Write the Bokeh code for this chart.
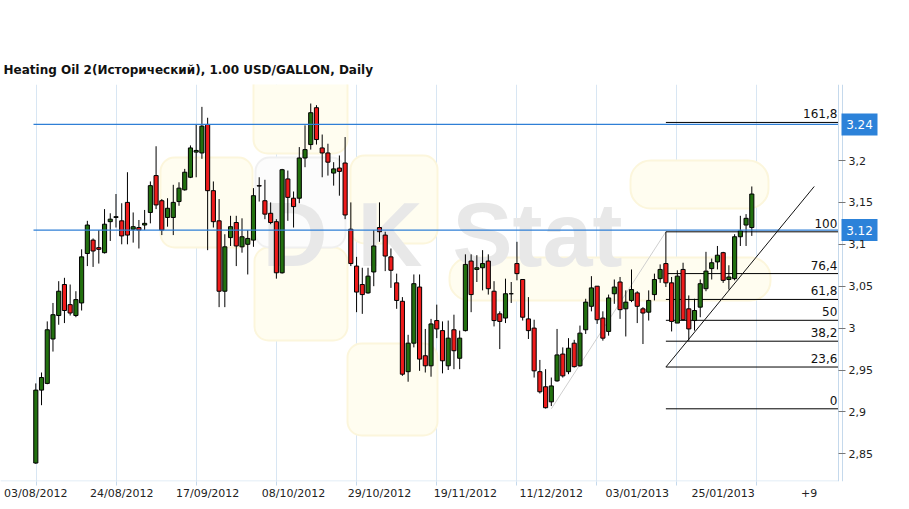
from bokeh.plotting import figure
from bokeh.models import FixedTicker, Range1d, ColumnDataSource
from bokeh.core.properties import value
from bokeh.embed import file_html
from bokeh.resources import INLINE

FONT = "DejaVu Sans"

# ---- data (daily candles, 03/08/2012 .. 04/02/2013) ----
opens = [2.839, 2.926, 2.934, 2.987, 3.015, 3.052, 3.028, 3.015, 3.030, 3.089,
         3.105, 3.096, 3.090, 3.127, 3.132, 3.128, 3.150, 3.118, 3.120, 3.123,
         3.138, 3.182, 3.152, 3.132, 3.132, 3.151, 3.165, 3.180, 3.210, 3.209,
         3.243, 3.164, 3.128, 3.044, 3.108, 3.126, 3.097, 3.100, 3.105, 3.170,
         3.152, 3.137, 3.127, 3.066, 3.178, 3.155, 3.155, 3.203, 3.219, 3.263,
         3.215, 3.209, 3.185, 3.191, 3.197, 3.118, 3.074, 3.052, 3.042, 3.067,
         3.120, 3.111, 3.085, 3.054, 3.032, 2.948, 2.982, 3.049, 2.967, 2.955,
         3.009, 2.997, 2.955, 2.998, 2.964, 2.997, 3.080, 3.070, 3.072, 3.080,
         3.044, 3.017, 3.012, 3.041, 3.077, 3.058, 3.011, 3.000, 2.948, 2.930,
         2.912, 2.937, 2.969, 2.948, 2.982, 2.955, 2.998, 3.026, 3.050, 3.012,
         2.996, 3.041, 3.055, 3.023, 3.033, 3.042, 3.023, 3.019, 3.040, 3.059,
         3.077, 3.054, 3.006, 3.070, 3.023, 3.009, 3.025, 3.047, 3.071, 3.079,
         3.090, 3.058, 3.059, 3.109, 3.123, 3.120]
highs = [2.934, 2.947, 3.008, 3.030, 3.056, 3.060, 3.052, 3.044, 3.094, 3.128,
         3.107, 3.117, 3.142, 3.137, 3.160, 3.149, 3.186, 3.138, 3.129, 3.141,
         3.175, 3.217, 3.154, 3.155, 3.171, 3.174, 3.190, 3.218, 3.243, 3.264,
         3.251, 3.175, 3.154, 3.112, 3.134, 3.134, 3.131, 3.117, 3.167, 3.180,
         3.177, 3.150, 3.130, 3.190, 3.188, 3.163, 3.216, 3.242, 3.268, 3.266,
         3.231, 3.220, 3.198, 3.206, 3.228, 3.150, 3.085, 3.072, 3.072, 3.117,
         3.150, 3.115, 3.095, 3.065, 3.037, 2.992, 3.064, 3.064, 2.999, 3.011,
         3.028, 3.008, 3.009, 3.016, 2.997, 3.088, 3.088, 3.087, 3.093, 3.088,
         3.056, 3.020, 3.059, 3.055, 3.103, 3.058, 3.037, 3.010, 2.962, 2.951,
         2.941, 2.999, 2.977, 2.988, 2.986, 3.003, 3.035, 3.062, 3.050, 3.020,
         3.040, 3.058, 3.061, 3.045, 3.070, 3.044, 3.025, 3.045, 3.065, 3.076,
         3.077, 3.061, 3.069, 3.078, 3.039, 3.035, 3.058, 3.091, 3.083, 3.098,
         3.091, 3.075, 3.112, 3.134, 3.136, 3.169]
lows = [2.838, 2.908, 2.933, 2.972, 3.004, 3.006, 3.015, 3.013, 3.021, 3.074,
        3.073, 3.077, 3.089, 3.104, 3.120, 3.100, 3.100, 3.102, 3.095, 3.117,
        3.125, 3.142, 3.111, 3.121, 3.111, 3.146, 3.164, 3.179, 3.180, 3.202,
        3.093, 3.120, 3.025, 3.025, 3.098, 3.074, 3.090, 3.064, 3.097, 3.151,
        3.130, 3.124, 3.059, 3.065, 3.128, 3.120, 3.149, 3.192, 3.213, 3.219,
        3.180, 3.182, 3.170, 3.158, 3.130, 3.074, 3.019, 3.017, 3.041, 3.050,
        3.103, 3.068, 3.048, 3.023, 2.943, 2.936, 2.977, 2.949, 2.947, 2.942,
        2.988, 2.946, 2.950, 2.951, 2.951, 2.996, 3.019, 3.055, 3.045, 3.040,
        3.002, 2.975, 3.006, 3.030, 3.057, 3.009, 2.987, 2.941, 2.922, 2.904,
        2.907, 2.936, 2.941, 2.945, 2.953, 2.954, 2.993, 3.020, 3.005, 2.985,
        2.991, 3.029, 3.011, 2.990, 3.031, 3.006, 2.981, 3.009, 3.033, 3.054,
        3.049, 2.996, 3.006, 3.009, 2.985, 2.997, 3.013, 3.044, 3.058, 3.070,
        3.054, 3.046, 3.057, 3.098, 3.098, 3.110]
closes = [2.926, 2.941, 2.998, 3.016, 3.044, 3.021, 3.018, 3.034, 3.085, 3.123,
          3.092, 3.094, 3.124, 3.130, 3.133, 3.110, 3.111, 3.121, 3.117, 3.125,
          3.170, 3.147, 3.117, 3.143, 3.150, 3.167, 3.186, 3.215, 3.212, 3.241,
          3.164, 3.127, 3.044, 3.097, 3.121, 3.098, 3.109, 3.107, 3.158, 3.1695,
          3.136, 3.126, 3.066, 3.189, 3.156, 3.145, 3.203, 3.213, 3.257, 3.225,
          3.209, 3.198, 3.190, 3.187, 3.135, 3.077, 3.043, 3.040, 3.062, 3.098,
          3.115, 3.086, 3.069, 3.033, 2.945, 2.982, 3.053, 2.963, 2.955, 3.005,
          2.999, 2.961, 2.988, 2.973, 2.988, 3.076, 3.040, 3.072, 3.077, 3.047,
          3.009, 3.008, 3.041, 3.041, 3.065, 3.013, 2.997, 2.949, 2.924, 2.905,
          2.931, 2.968, 2.943, 2.976, 2.954, 2.994, 3.031, 3.048, 3.010, 2.988,
          3.036, 3.049, 3.022, 3.031, 3.046, 3.026, 3.018, 3.033, 3.058, 3.070,
          3.054, 3.008, 3.062, 3.010, 2.999, 3.021, 3.053, 3.068, 3.078, 3.087,
          3.057, 3.061, 3.109, 3.116, 3.131, 3.160]

x_tick_pos = [0, 15, 30, 45, 60, 75, 90, 105, 120, 135]
x_tick_labels = ["03/08/2012", "24/08/2012", "17/09/2012", "08/10/2012", "29/10/2012",
                 "19/11/2012", "11/12/2012", "03/01/2013", "25/01/2013", "+9"]
y_ticks = [2.85, 2.9, 2.95, 3.0, 3.05, 3.1, 3.15, 3.2]
y_tick_labels = ["2,85", "2,9", "2,95", "3", "3,05", "3,1", "3,15", "3,2"]

# horizontal price lines and their tags
hline_values = [3.243, 3.117]
hline_tags = ["3.24", "3.12"]

# Fibonacci retracement (low of 11/12/2012 to the 100 level)
fib_levels = [0, 23.6, 38.2, 50, 61.8, 76.4, 100, 161.8]
fib_texts = ["0", "23,6", "38,2", "50", "61,8", "76,4", "100", "161,8"]
fib_low_x, fib_low = 90, 2.9037
fib_high_x, fib_high = 110, 3.1149

# trend line
trend_x = [110, 135.9]
trend_y = [2.9535, 3.169]

# ---- layout helpers ----
PX = 5.728                 # pixels per candle
W, H = 900, 505
X0 = -35.3 / PX
X1 = X0 + W / PX
X_EDGE = (838 - 35.3) / PX  # right price-axis line
X_EDGE2 = (842 - 35.3) / PX
YPX = 838.0                # pixels per price unit
Y1 = 3.2 + 76 / YPX
Y0 = 3.2 - 321 / YPX


def sx(px):
    return (px - 35.3) / PX


def sy(py):
    return 3.2 - (py - 160) / YPX


GREEN = "#22700f"
RED = "#ee1b1b"
GRID = "#d8e6f3"
WM_FILL = "#fffdf0"
WM_LINE = "#fcf6dc"

idx = list(range(len(opens)))
src = ColumnDataSource(dict(
    x=idx, h=highs, l=lows,
    top=[max(o, c) for o, c in zip(opens, closes)],
    bottom=[min(o, c) for o, c in zip(opens, closes)],
    color=[GREEN if c >= o else RED for o, c in zip(opens, closes)],
))

p = figure(width=W, height=H, x_range=Range1d(X0, X1), y_range=Range1d(Y0, Y1),
           y_axis_location="right", output_backend="svg", toolbar_location=None,
           min_border_left=0, min_border_right=0, min_border_top=84, min_border_bottom=24)
p.outline_line_color = None
p.background_fill_color = "white"
p.border_fill_color = "white"

# title
p.title.text = "Heating Oil 2(Исторический), 1.00 USD/GALLON, Daily"
p.title.text_font = FONT
p.title.text_font_size = "12px"
p.title.text_font_style = "bold"
p.title.text_color = "#111111"
p.title.align = "left"
p.title.offset = 3
p.title.standoff = 16

# ---- watermark (faint logo) ----
sq_l = [253, 160, 350, 254, 347]
sq_r = [347, 252, 437, 347, 437]
sq_t = [70, 157, 155, 247, 343]
sq_b = [153, 247, 243, 340, 435]
p.quad(left=[sx(v) for v in sq_l], right=[sx(v) for v in sq_r],
       top=[sy(v) for v in sq_t], bottom=[sy(v) for v in sq_b],
       fill_color=WM_FILL, line_color=WM_LINE, line_width=2, border_radius=14)
p.quad(left=[sx(255)], right=[sx(345)], top=[sy(157)], bottom=[sy(247)],
       fill_color="#fcfcfc", line_color="#f0f0f0", line_width=2, border_radius=14)
p.quad(left=[sx(449), sx(630)], right=[sx(770), sx(768)], top=[sy(257), sy(160)],
       bottom=[sy(300), sy(208)], fill_color=WM_FILL, line_color=WM_LINE,
       line_width=2, border_radius=20)
p.text(x=[sx(262), sx(357), sx(452)], y=[sy(234)] * 3, text=["D", "K", "Stat"],
       text_font=value("Liberation Sans"), text_font_style="bold", text_font_size="90px",
       text_color="#e8e8e8", text_baseline="alphabetic", text_align="left")

# grids
p.ygrid.grid_line_color = None
grid_pos = [0.15 + 13.97 * k for k in range(10)]
p.xgrid.ticker = FixedTicker(ticks=grid_pos)
p.xgrid.grid_line_color = GRID

# x axis
p.xaxis.ticker = FixedTicker(ticks=x_tick_pos, minor_ticks=grid_pos)
p.xaxis.major_label_overrides = {k: v for k, v in zip(x_tick_pos, x_tick_labels)}
p.xaxis.major_tick_line_color = None
p.xaxis.major_tick_out = 0
p.xaxis.major_tick_in = 0
p.xaxis.minor_tick_line_color = "#c5d9ec"
p.xaxis.minor_tick_out = 4
p.xaxis.minor_tick_in = 0
p.xaxis.axis_line_color = None
p.xaxis.major_label_text_font = FONT
p.xaxis.major_label_text_font_size = "11px"
p.xaxis.major_label_text_color = "#222222"
p.xaxis.major_label_standoff = 1

# y axis (price scale drawn at the right edge of the chart area)
p.yaxis.fixed_location = X_EDGE
p.yaxis.ticker = FixedTicker(ticks=y_ticks, minor_ticks=[])
p.yaxis.major_label_overrides = {k: v for k, v in zip(y_ticks, y_tick_labels)}
p.yaxis.axis_line_color = "#c5d9ec"
p.yaxis.major_tick_line_color = "#777777"
p.yaxis.major_tick_out = 7
p.yaxis.major_tick_in = 0
p.yaxis.major_label_text_font = FONT
p.yaxis.major_label_text_font_size = "11px"
p.yaxis.major_label_text_color = "#222222"
p.yaxis.major_label_standoff = 3

# axis frame lines
p.segment(x0=[X_EDGE2], y0=[Y0], x1=[X_EDGE2], y1=[Y1], line_color="#c5d9ec", line_width=1)
p.segment(x0=[X0], y0=[Y0 + 0.5 / YPX], x1=[X_EDGE], y1=[Y0 + 0.5 / YPX],
          line_color=GRID, line_width=1)

# faint fib diagonal
p.line([fib_low_x, fib_high_x], [fib_low, fib_high], line_color="#cfcfcf", line_width=1)

# fibonacci levels
rng = fib_high - fib_low
fib_prices = [fib_low + lv / 100.0 * rng for lv in fib_levels]
p.segment(x0=[fib_high_x] * len(fib_prices), y0=fib_prices,
          x1=[X_EDGE] * len(fib_prices), y1=fib_prices, line_color="black", line_width=1)
p.segment(x0=[fib_high_x], y0=[fib_high], x1=[fib_high_x], y1=[fib_prices[5]],
          line_color="black", line_width=1)

# candles
p.segment(x0="x", y0="h", x1="x", y1="l", source=src, line_color="black", line_width=1)
p.vbar(x="x", top="top", bottom="bottom", width=0.72, source=src,
       fill_color="color", line_color="black", line_width=1)

# blue price lines
p.segment(x0=[-0.4] * 2, y0=hline_values, x1=[X_EDGE] * 2, y1=hline_values,
          line_color="#2f7fd6", line_width=1.3)

# trend line
p.line(trend_x, trend_y, line_color="#111111", line_width=1)

# fib labels
p.text(x=[X_EDGE - 0.2] * len(fib_prices), y=fib_prices, text=fib_texts,
       text_align="right", text_baseline="bottom", y_offset=-4,
       text_font=value(FONT), text_font_size="12px", text_color="#111111")

# price tags
TAG_X = sx(859)
p.rect(x=[TAG_X] * 2, y=hline_values, width=36 / PX, height=22 / YPX,
       fill_color="#2c82d9", line_color=None)
p.text(x=[TAG_X] * 2, y=hline_values, text=hline_tags, text_align="center",
       text_baseline="middle", text_font=value(FONT), text_font_size="12px",
       text_color="white")

open("out.html", "w").write(file_html(p, INLINE))
